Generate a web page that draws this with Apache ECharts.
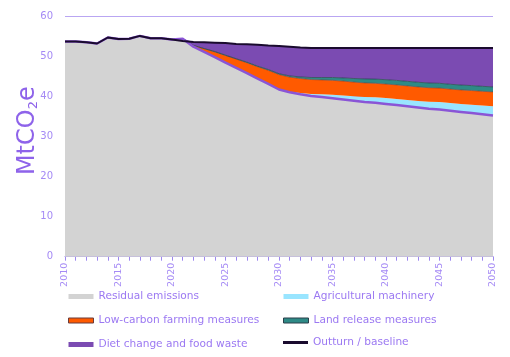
<!DOCTYPE html>
<html><head><meta charset="utf-8">
<script src="https://cdn.jsdelivr.net/npm/echarts@6/dist/echarts.min.js"></script>
<style>html,body{margin:0;padding:0;background:#fff}#c{width:510px;height:357px}</style>
</head><body><div id="c"></div>
<script>
var years = [];
for (var y = 2010; y <= 2050; y++) years.push(String(y));

var residual = [53.8,53.8,53.6,53.3,54.8,54.4,54.5,55.2,54.6,54.6,54.3,
  54.5,52.5,51.2,49.9,48.5,47.2,45.9,44.5,43.2,41.8,
  41.1,40.6,40.2,39.9,39.6,39.3,39.0,38.7,38.5,38.2,
  37.9,37.6,37.3,37.0,36.8,36.5,36.2,35.9,35.6,35.3];
var machinery = [null,null,null,null,null,null,null,null,null,null,null,
  0,0,0,0,0,0,0,0,0,0,
  0.1,0.3,0.5,0.7,0.9,1.0,1.1,1.2,1.35,1.45,
  1.55,1.6,1.65,1.75,1.85,1.9,2.0,2.1,2.2,2.3];
var lowCarbon = [null,null,null,null,null,null,null,null,null,null,null,
  0,0.3,0.8,1.3,1.8,2.2,2.6,3.0,3.4,3.75,
  3.7,3.65,3.6,3.6,3.6,3.6,3.55,3.55,3.5,3.5,
  3.5,3.5,3.5,3.5,3.5,3.5,3.5,3.55,3.55,3.6];
var landRelease = [null,null,null,null,null,null,null,null,null,null,null,
  0,0.05,0.05,0.1,0.1,0.1,0.15,0.15,0.2,0.2,
  0.3,0.4,0.5,0.6,0.7,0.8,0.9,1.0,1.05,1.1,
  1.12,1.14,1.16,1.18,1.2,1.21,1.22,1.23,1.24,1.25];
var diet = [null,null,null,null,null,null,null,null,null,null,null,
  0,0.85,1.55,2.2,3.0,3.7,4.45,5.35,6.0,6.95,
  7.3,7.35,7.4,7.4,7.4,7.5,7.65,7.75,7.8,7.95,
  8.13,8.36,8.59,8.77,8.85,9.09,9.28,9.42,9.61,9.75];
var baseline = [53.8,53.8,53.6,53.3,54.8,54.4,54.5,55.2,54.6,54.6,54.3,
  53.9,53.7,53.6,53.5,53.4,53.2,53.1,53.0,52.8,52.7,
  52.5,52.3,52.2,52.2,52.2,52.2,52.2,52.2,52.2,52.2,
  52.2,52.2,52.2,52.2,52.2,52.2,52.2,52.2,52.2,52.2];
var yTicks = [0,10,20,30,40,50,60];
var xLabelYears = ['2010','2015','2020','2025','2030','2035','2040','2045','2050'];

var purpleTxt = '#A58AF5';
var font = 'DejaVu Sans';

var chart = echarts.init(document.getElementById('c'));
chart.setOption({
  animation: false,
  textStyle: {fontFamily: font},
  grid: {left: 65, right: 17, top: 16.7, bottom: 100.3, containLabel: false, outerBoundsMode: 'none'},
  xAxis: {
    type: 'category', data: years, boundaryGap: false,
    axisLine: {show: true, lineStyle: {color: '#9C86F0', width: 1}},
    axisTick: {show: true, length: 4, interval: 0, lineStyle: {color: '#9C86F0'}},
    splitLine: {show: false},
    axisLabel: {
      rotate: 90, fontSize: 9.5, color: purpleTxt, margin: 6, fontFamily: font,
      interval: function(i, v){ return xLabelYears.indexOf(v) >= 0; }
    }
  },
  yAxis: {
    type: 'value', min: yTicks[0], max: yTicks[yTicks.length-1], interval: 10,
    axisLine: {show: false}, axisTick: {show: false},
    splitLine: {show: true, lineStyle: {color: '#B9A6F2', width: 1}},
    axisLabel: {fontSize: 10, color: purpleTxt, margin: 12, fontFamily: font},
    name: 'MtCO{s|2}e', nameLocation: 'middle', nameRotate: 90, nameGap: 25, nameMoveOverlap: false,
    nameTextStyle: {
      fontSize: 24, color: '#8E63EA', fontFamily: font, padding: [0,0,0,12],
      rich: {s: {fontSize: 13, color: '#8E63EA', verticalAlign: 'bottom', padding: [9,0,0,0], fontFamily: font}}
    }
  },
  legend: [
    {left: 68, top: 291, padding: 0, orient: 'vertical', itemWidth: 25, itemHeight: 5, itemGap: 13,
     textStyle: {fontSize: 10.6, color: '#9B78F2', fontFamily: font},
     data: [
       {name: 'Residual emissions', icon: 'rect', itemStyle: {color: '#D3D3D3', borderWidth: 0}},
       {name: 'Low-carbon farming measures', icon: 'rect', itemStyle: {color: '#FF5A00', borderColor: '#6b3b3b', borderWidth: 1}},
       {name: 'Diet change and food waste', icon: 'rect', itemStyle: {color: '#7B4BB2', borderWidth: 0}}
     ]},
    {left: 283, top: 291, padding: 0, orient: 'vertical', itemWidth: 25, itemHeight: 5, itemGap: 13,
     textStyle: {fontSize: 10.6, color: '#9B78F2', fontFamily: font},
     data: [
       {name: 'Agricultural machinery', icon: 'rect', itemStyle: {color: '#99E5FF', borderWidth: 0}},
       {name: 'Land release measures', icon: 'rect', itemStyle: {color: '#2E8A86', borderColor: '#2a3f4a', borderWidth: 1}}
     ]},
    {left: 283, top: 337, padding: 0, itemWidth: 25, itemHeight: 3,
     textStyle: {fontSize: 10.6, color: '#9B78F2', fontFamily: font},
     data: [{name: 'Outturn / baseline', icon: 'rect', itemStyle: {color: '#1A0B2E'}}]}
  ],
  series: [
    {name: 'Residual emissions', type: 'line', stack: 'a', data: residual, symbol: 'none',
     lineStyle: {color: '#8A55D6', width: 2.5}, areaStyle: {color: '#D3D3D3', opacity: 1}, itemStyle: {color: '#D3D3D3'}, z: 3},
    {name: 'Agricultural machinery', type: 'line', stack: 'a', data: machinery, symbol: 'none',
     lineStyle: {width: 0}, areaStyle: {color: '#99E5FF', opacity: 1}, itemStyle: {color: '#99E5FF'}, z: 2},
    {name: 'Low-carbon farming measures', type: 'line', stack: 'a', data: lowCarbon, symbol: 'none',
     lineStyle: {color: '#6b3b3b', width: 0.6}, areaStyle: {color: '#FF5A00', opacity: 1}, itemStyle: {color: '#FF5A00'}, z: 2},
    {name: 'Land release measures', type: 'line', stack: 'a', data: landRelease, symbol: 'none',
     lineStyle: {color: '#2a3f4a', width: 0.7}, areaStyle: {color: '#2E8A86', opacity: 1}, itemStyle: {color: '#2E8A86'}, z: 2},
    {name: 'Diet change and food waste', type: 'line', stack: 'a', data: diet, symbol: 'none',
     lineStyle: {width: 0}, areaStyle: {color: '#7B4BB2', opacity: 1}, itemStyle: {color: '#7B4BB2'}, z: 1},
    {name: 'Outturn / baseline', type: 'line', data: baseline, symbol: 'none',
     lineStyle: {color: '#1A0B2E', width: 2}, itemStyle: {color: '#1A0B2E'}, z: 5}
  ]
});
</script></body></html>
